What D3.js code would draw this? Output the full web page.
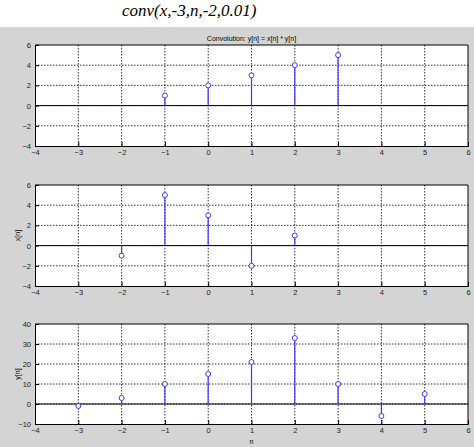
<!DOCTYPE html>
<html><head><meta charset="utf-8">
<script src="https://cdn.jsdelivr.net/npm/d3@7"></script>
<style>body{margin:0;background:#fff}</style></head>
<body><svg id="c" width="474" height="447"></svg>
<script>
const xTicks=[-4,-3,-2,-1,0,1,2,3,4,5,6];
const n1=[-1,0,1,2,3], v1=[1,2,3,4,5];
const n2=[-2,-1,0,1,2], v2=[-1,5,3,-2,1];
const n3=[-3,-2,-1,0,1,2,3,4,5], v3=[-1,3,10,15,21,33,10,-6,5];
const yTicks1=[-4,-2,0,2,4,6], yTicks3=[-10,0,10,20,30,40];
const svg=d3.select("#c");
svg.append("rect").attr("x",0).attr("y",27).attr("width",474).attr("height",420).attr("fill","#d4d4d4");
svg.append("text").attr("x",122).attr("y",16).attr("font-family","Liberation Serif, serif").attr("font-style","italic").attr("font-size",17).text("conv(x,-3,n,-2,0.01)");
const panels=[
 {top:45,bot:146,n:n1,v:v1,yd:[-4,6],yt:yTicks1,title:"Convolution:  y[n] = x[n] * y[n]",yl:""},
 {top:185,bot:286,n:n2,v:v2,yd:[-4,6],yt:yTicks1,yl:"x[n]"},
 {top:324,bot:424,n:n3,v:v3,yd:[-10,40],yt:yTicks3,yl:"y[n]",xl:"n"}];
const L=35,R=468;
const x=d3.scaleLinear().domain([-4,6]).range([L,R]);
panels.forEach(p=>{
 const y=d3.scaleLinear().domain(p.yd).range([p.bot,p.top]);
 const g=svg.append("g");
 g.append("rect").attr("x",L).attr("y",p.top).attr("width",R-L).attr("height",p.bot-p.top).attr("fill","#fff");
 g.selectAll(".vg").data(xTicks.slice(1,-1)).join("line").attr("x1",d=>x(d)).attr("x2",d=>x(d)).attr("y1",p.top).attr("y2",p.bot).attr("stroke","#000").attr("stroke-dasharray","1.5,1.5").attr("stroke-width",0.8);
 g.selectAll(".hg").data(p.yt.slice(1,-1)).join("line").attr("y1",d=>y(d)).attr("y2",d=>y(d)).attr("x1",L).attr("x2",R).attr("stroke","#000").attr("stroke-dasharray","1.5,1.5").attr("stroke-width",0.8);
 g.append("line").attr("x1",L).attr("x2",R).attr("y1",y(0)).attr("y2",y(0)).attr("stroke","#000");
 const fs=7.5;
 g.append("g").attr("transform",`translate(0,${p.bot})`).call(d3.axisBottom(x).tickValues(xTicks).tickSize(-4).tickPadding(4).tickFormat(d3.format("d")))
  .call(a=>{a.selectAll("text").attr("font-size",fs).attr("font-family","Liberation Sans").attr("fill","#222");a.select(".domain").attr("stroke","#000");});
 g.append("g").attr("transform",`translate(${L},0)`).call(d3.axisLeft(y).tickValues(p.yt).tickSize(-4).tickPadding(4).tickFormat(d3.format("d")))
  .call(a=>{a.selectAll("text").attr("font-size",fs).attr("font-family","Liberation Sans").attr("fill","#222");a.select(".domain").attr("stroke","#000");});
 g.append("line").attr("x1",R).attr("x2",R).attr("y1",p.top).attr("y2",p.bot).attr("stroke","#000");
 g.append("line").attr("x1",L).attr("x2",R).attr("y1",p.top).attr("y2",p.top).attr("stroke","#000");
 const d=p.n.map((n,i)=>({n,v:p.v[i]}));
 g.selectAll(".st").data(d).join("line").attr("x1",e=>x(e.n)).attr("x2",e=>x(e.n)).attr("y1",y(0)).attr("y2",e=>y(e.v)).attr("stroke","#3a3aff").attr("stroke-width",1.2);
 g.selectAll(".pt").data(d).join("circle").attr("cx",e=>x(e.n)).attr("cy",e=>y(e.v)).attr("r",2.5).attr("fill","#fff").attr("stroke","#3a3aff").attr("stroke-width",1);
 if(p.title) svg.append("text").attr("x",(L+R)/2).attr("y",p.top-4).attr("text-anchor","middle").attr("font-size",7).attr("font-family","Liberation Sans").text(p.title);
 if(p.yl) svg.append("text").attr("transform",`translate(20,${(p.top+p.bot)/2}) rotate(-90)`).attr("text-anchor","middle").attr("font-size",7).attr("font-family","Liberation Sans").text(p.yl);
 if(p.xl) svg.append("text").attr("x",(L+R)/2).attr("y",p.bot+20).attr("text-anchor","middle").attr("font-size",7).attr("font-family","Liberation Sans").text(p.xl);
});
</script></body></html>
